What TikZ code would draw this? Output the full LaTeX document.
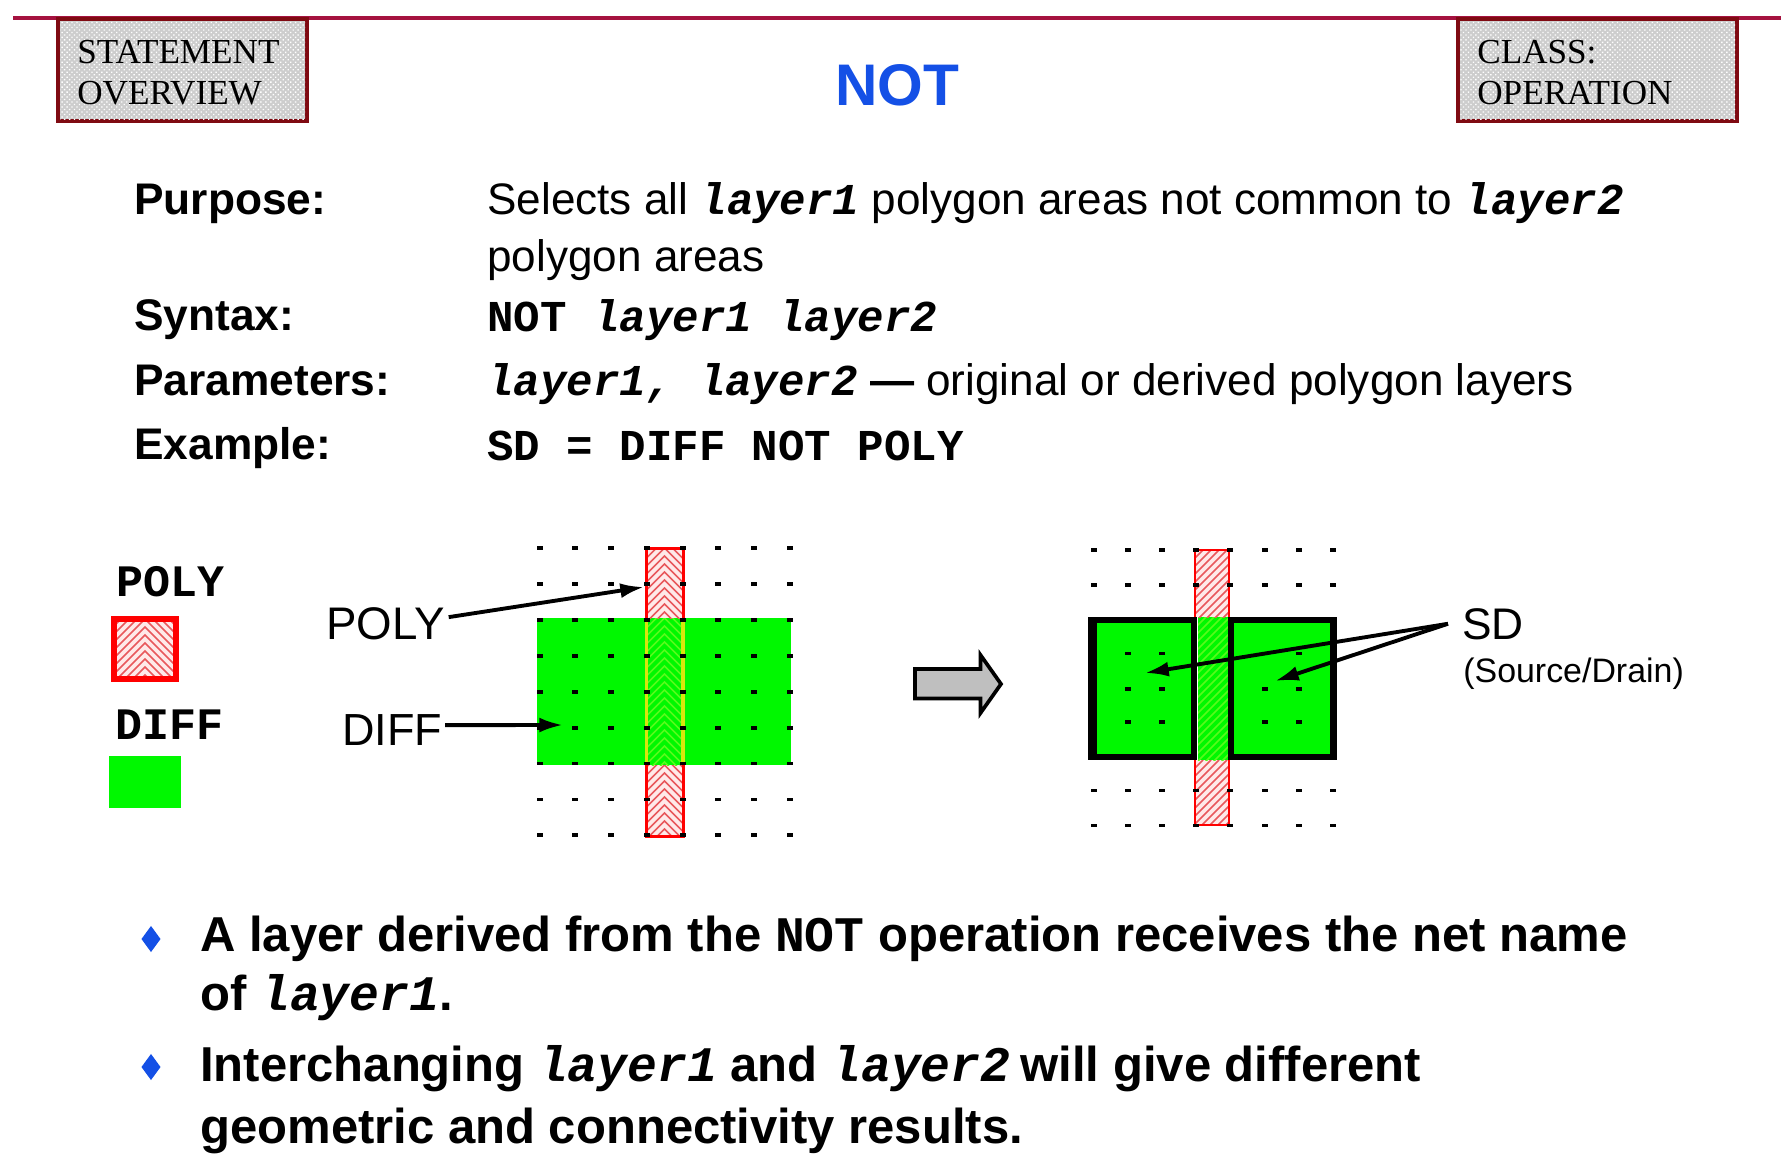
\documentclass[tikz,border=0pt]{standalone}
\usepackage{fontspec}
\setmainfont{Liberation Sans}
\setmonofont{Liberation Mono}
\newfontfamily\boxfont{Liberation Serif}
\usetikzlibrary{shapes.geometric, arrows.meta, positioning, patterns.meta}
\definecolor{rulered}{HTML}{A5123F}
\definecolor{boxred}{HTML}{7F0A12}
\definecolor{boxgrey}{HTML}{CDCDCD}
\definecolor{titleblue}{HTML}{1450E6}
\definecolor{layerred}{HTML}{FF0000}
\definecolor{layergreen}{HTML}{00F800}
\definecolor{hatchpink}{HTML}{FFE9E9}
\definecolor{hatchline}{HTML}{E8585C}
\definecolor{overlapline}{HTML}{58FA1C}
\newcommand{\sz}[1]{\fontsize{#1}{#1}\selectfont}
\newcommand{\lyr}[1]{{\ttfamily\bfseries\itshape #1}}
\newcommand{\cmd}[1]{{\ttfamily\bfseries #1}}
\newcommand{\lyrbig}[1]{{\ttfamily\bfseries\itshape\sz{28.3}#1}}
\newcommand{\cmdbig}[1]{{\ttfamily\bfseries\sz{28.3}#1}}
\newcommand{\chevrons}[5]{%
  \begin{scope}
    \clip (#1,#2) rectangle (#3,#4);
    \foreach \h in {-40,-32,...,300}
      \draw[#5,line width=.95pt] ({(#1+#3)/2-40},{#2+\h+40}) -- ({(#1+#3)/2},{#2+\h}) -- ({(#1+#3)/2+40},{#2+\h+40});
  \end{scope}}
\newcommand{\diagonals}[5]{%
  \begin{scope}
    \clip (#1,#2) rectangle (#3,#4);
    \foreach \h in {0,8,...,340}
      \draw[#5,line width=.95pt] ({#1+\h},#2) -- ({#1+\h-300},{#2+300});
  \end{scope}}
\tikzstyle{every node}=[inner sep=0pt, anchor=base west]
\tikzstyle{tag}=[font=\boxfont\sz{20}]
\tikzstyle{tagbox}=[draw=boxred, fill=boxgrey, line width=2.2pt]
\tikzstyle{tagdots}=[pattern={Dots[distance=2pt,radius=.55pt,angle=45]}, pattern color=white]
\tikzstyle{body}=[font=\sz{25.1}]
\tikzstyle{head}=[font=\bfseries\sz{25.2}]
\tikzstyle{point}=[font=\bfseries\sz{27.9}]
\tikzstyle{legend}=[font=\ttfamily\bfseries\sz{25.6}]
\tikzstyle{bullet}=[diamond, fill=titleblue, minimum width=11pt, minimum height=15pt, anchor=center]
\tikzstyle{ptr}=[->, line width=2.2pt]
\tikzstyle{edge}=[draw=layerred, line width=1.7pt]
\tikzstyle{thinedge}=[draw=layerred, line width=1.4pt]

\begin{document}
\begin{tikzpicture}[x=0.02cm,y=-0.02cm,>={Latex[length=13.5pt,width=8.5pt]}]
    \useasboundingbox (0,0) rectangle (1784,1163);
    % header
    \draw[rulered, line width=2.2pt] (13,18) -- (1781,18);
    \draw[tagbox] (58,19) rectangle (307,121);
    \draw[tagbox] (1458,19) rectangle (1737,121);
    \fill[tagdots] (60,21) rectangle (305,119);
    \fill[tagdots] (1460,21) rectangle (1735,119);
    \node[tag] (tagA) at (77,63) {STATEMENT};
    \node[tag] (tagB) at (77,104) {OVERVIEW};
    \node[tag] (tagC) at (1477,63) {CLASS:};
    \node[tag] (tagD) at (1477,104) {OPERATION};
    \node[font=\bfseries\sz{33.4}, text=titleblue, anchor=base] (title) at (897,105) {NOT};

    % statement text
    \node[head] (purpose) at (134,214) {Purpose:};
    \node[head] (syntax) at (134,330) {Syntax:};
    \node[head] (params) at (134,395) {Parameters:};
    \node[head] (example) at (134,459) {Example:};
    \node[body] (purposeA) at (487,214) {Selects all \lyr{layer1} polygon areas not common to \lyr{layer2}};
    \node[body] (purposeB) at (487,271) {polygon areas};
    \node[body] (syntaxA) at (487,331) {\cmd{NOT \itshape layer1 layer2}};
    \node[body] (paramsA) at (487,395) {\lyr{layer1, layer2} \textbf{---} original or derived polygon layers};
    \node[body] (exampleA) at (487,460) {\cmd{SD = DIFF NOT POLY}};

    % legend
    \node[legend] (legendpoly) at (116,596) {POLY};
    \node[legend] (legenddiff) at (115,739) {DIFF};
    \fill[hatchpink] (114,619) rectangle (176,679);
    \chevrons{114}{619}{176}{679}{hatchline}
    \draw[layerred, line width=3pt] (114,619) rectangle (176,679);
    \fill[layergreen] (109,756) rectangle (181,808);

    % left layout
    \fill[layergreen] (537,618) rectangle (791,765);
    \fill[yellow!85!layergreen] (645,618) rectangle (685,765);
    \fill[layergreen] (648,618) rectangle (681,765);
    \fill[hatchpink] (646,548) rectangle (683,618);
    \fill[hatchpink] (646,765) rectangle (683,836);
    \chevrons{646}{548}{683}{618}{hatchline}
    \chevrons{646}{765}{683}{836}{hatchline}
    \chevrons{648}{618}{681}{765}{overlapline}
    \draw[edge] (646,618) -- (646,548) -- (683,548) -- (683,618);
    \draw[edge] (646,765) -- (646,836) -- (683,836) -- (683,765);
    \foreach \x in {539.7,575.4,611.1,646.8,682.5,718.2,753.9,789.6}
      \foreach \y in {548,584,620,656,692,728,763.5,799.5,835}
        \fill (\x-3,\y-1.8) rectangle (\x+3,\y+1.8);

    % result arrow
    \draw[line width=2.1pt, fill=gray!50!white, miter limit=10] (915,669) -- (980.5,669) -- (980.5,655) -- (1001,684) -- (980.5,713) -- (980.5,698.5) -- (915,698.5) -- cycle;

    % right layout
    \fill[layergreen] (1198,617) rectangle (1228,760);
    \fill[hatchpink] (1195,550) rectangle (1229,617);
    \fill[hatchpink] (1195,760) rectangle (1229,825);
    \diagonals{1195}{550}{1229}{617}{hatchline}
    \diagonals{1195}{760}{1229}{825}{hatchline}
    \diagonals{1198}{617}{1228}{760}{overlapline}
    \draw[thinedge] (1195,617) -- (1195,550) -- (1229,550) -- (1229,617);
    \draw[thinedge] (1195,760) -- (1195,825) -- (1229,825) -- (1229,760);
    \draw[fill=layergreen, line width=3.8pt] (1092.5,620) rectangle (1194,757);
    \draw[fill=layergreen, line width=3.8pt] (1231,620) rectangle (1333.5,757);
    \draw[line width=4.8pt] (1092.5,617) -- (1092.5,760);
    \foreach \x in {1094,1127.5,1162,1195.7,1230,1265.3,1298.5,1333.3}
      \foreach \y in {550,585,790.3,825.3}
        \fill (\x-3,\y-1.8) rectangle (\x+3,\y+1.8);
    \foreach \x in {1127.5,1162,1265.3,1298.5}
      \foreach \y in {653.3,688.7,722}
        \fill (\x-3,\y-1.8) rectangle (\x+3,\y+1.8);

    % callouts
    \node[font=\sz{26}] (polylabel) at (326,639) {POLY};
    \node[font=\sz{25.6}] (difflabel) at (342,745) {DIFF};
    \node[font=\sz{25.2}] (sdlabel) at (1462,639) {SD};
    \node[font=\sz{19.3}] (sdnote) at (1463,682) {(Source/Drain)};
    \coordinate (polytip) at (644,587);
    \coordinate (difftip) at (563,725);
    \coordinate (sdleft) at (1145,673);
    \coordinate (sdright) at (1275,681);
    \draw[ptr] ([xshift=2pt,yshift=3.5pt]polylabel.east) -- (polytip);
    \draw[ptr] ([xshift=1.4pt,yshift=2.5pt]difflabel.east) -- (difftip);
    \draw[ptr] ([xshift=-8pt]sdlabel.west) -- (sdleft);
    \draw[ptr] ([xshift=-8pt]sdlabel.west) -- (sdright);

    % notes
    \node[bullet] (markA) at (151,939) {};
    \node[bullet] (markB) at (151,1067) {};
    \node[point] (pointA) at (200,951) {A layer derived from the \cmdbig{NOT} operation receives the net name};
    \node[point] (pointB) at (200,1010) {of \lyrbig{layer1}.};
    \node[point] (pointC) at (200,1081) {Interchanging \lyrbig{layer1} and \lyrbig{layer2} \hspace{-2pt}will give different};
    \node[point] (pointD) at (200,1143) {geometric and connectivity results.};
\end{tikzpicture}
\end{document}
